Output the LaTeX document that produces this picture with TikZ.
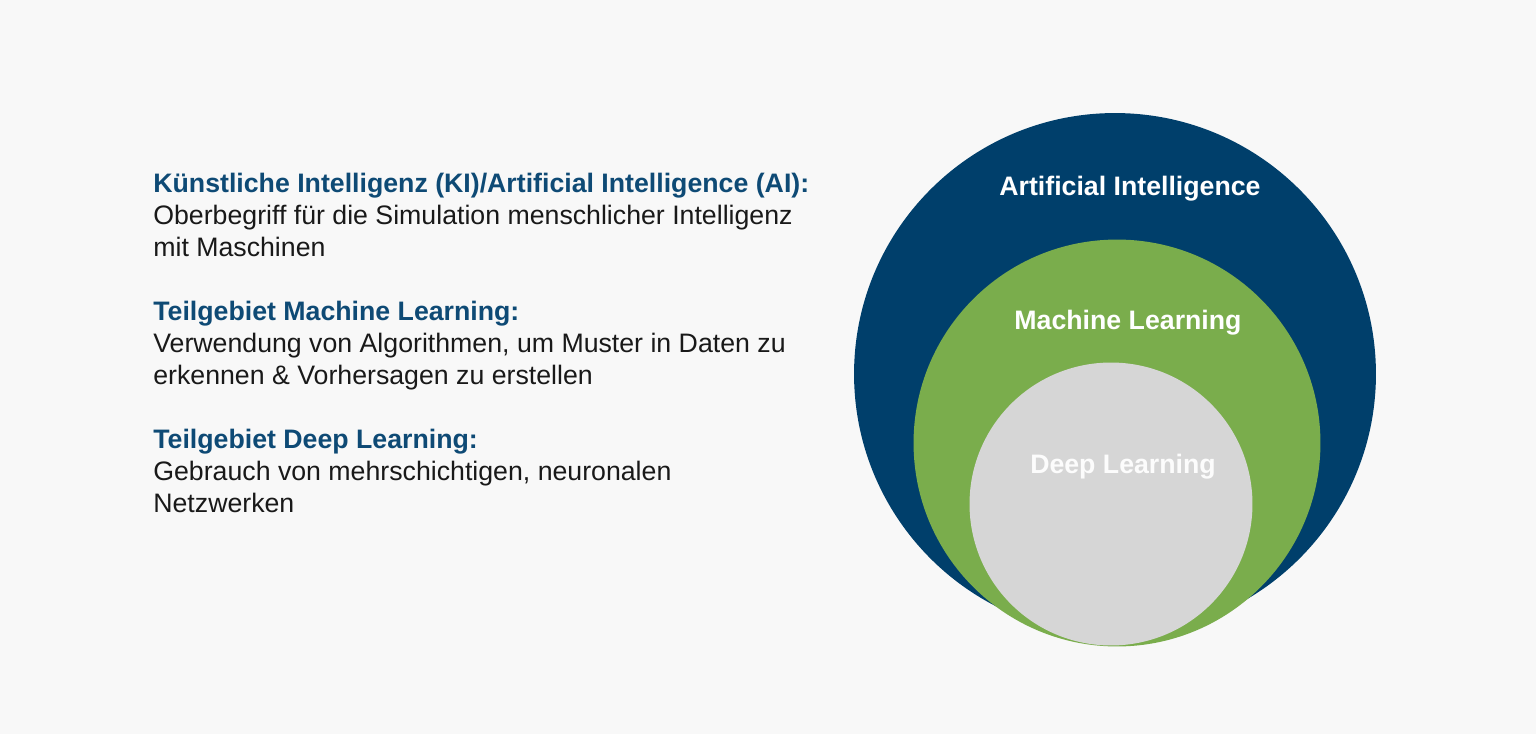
\documentclass[tikz,border=0pt]{standalone}
\usepackage{fontspec}
\setmainfont{Liberation Sans}
\definecolor{aiblue}{HTML}{003F6B}
\definecolor{mlgreen}{HTML}{7AAD4C}
\definecolor{dlgray}{HTML}{D6D6D6}
\definecolor{bgpaper}{HTML}{F8F8F8}
\definecolor{headblue}{HTML}{0E4A75}
\tikzset{
  block/.style={anchor=base west, align=left, inner sep=0pt,
    font=\fontsize{15.2pt}{18.2pt}\selectfont, text=black!90},
  ring/.style={font=\fontsize{15.2pt}{17pt}\selectfont\bfseries, text=white, anchor=base}
}
\newcommand{\head}[1]{{\bfseries\color{headblue}#1}}
\begin{document}
\begin{tikzpicture}[x=0.02cm,y=-0.02cm]
\fill[bgpaper] (0,0) rectangle (1536,734);
\useasboundingbox (0,0) rectangle (1536,734);

% circles
\fill[aiblue] (1115,374) circle[radius=5.22cm];
\fill[mlgreen] (1117,443) circle[radius=4.07cm];
\fill[dlgray] (1111,504) circle[radius=2.83cm];

\node[ring] (ai) at (1130,195) {Artificial Intelligence};
\node[ring] (ml) at (1128,329) {Machine Learning};
\node[ring, text=white!92!dlgray] (dl) at (1123,473) {Deep Learning};

% text blocks
\node[block] (kitext) at (153,256) {\head{Künstliche Intelligenz (KI)/Artificial Intelligence (AI):}\\
Oberbegriff für die Simulation menschlicher Intelligenz\\ mit Maschinen};
\node[block] (mltext) at (153,384) {\head{Teilgebiet Machine Learning:}\\
Verwendung von Algorithmen, um Muster in Daten zu\\ erkennen \& Vorhersagen zu erstellen};
\node[block] (dltext) at (153,512) {\head{Teilgebiet Deep Learning:}\\
Gebrauch von mehrschichtigen, neuronalen\\ Netzwerken};
\end{tikzpicture}
\end{document}
